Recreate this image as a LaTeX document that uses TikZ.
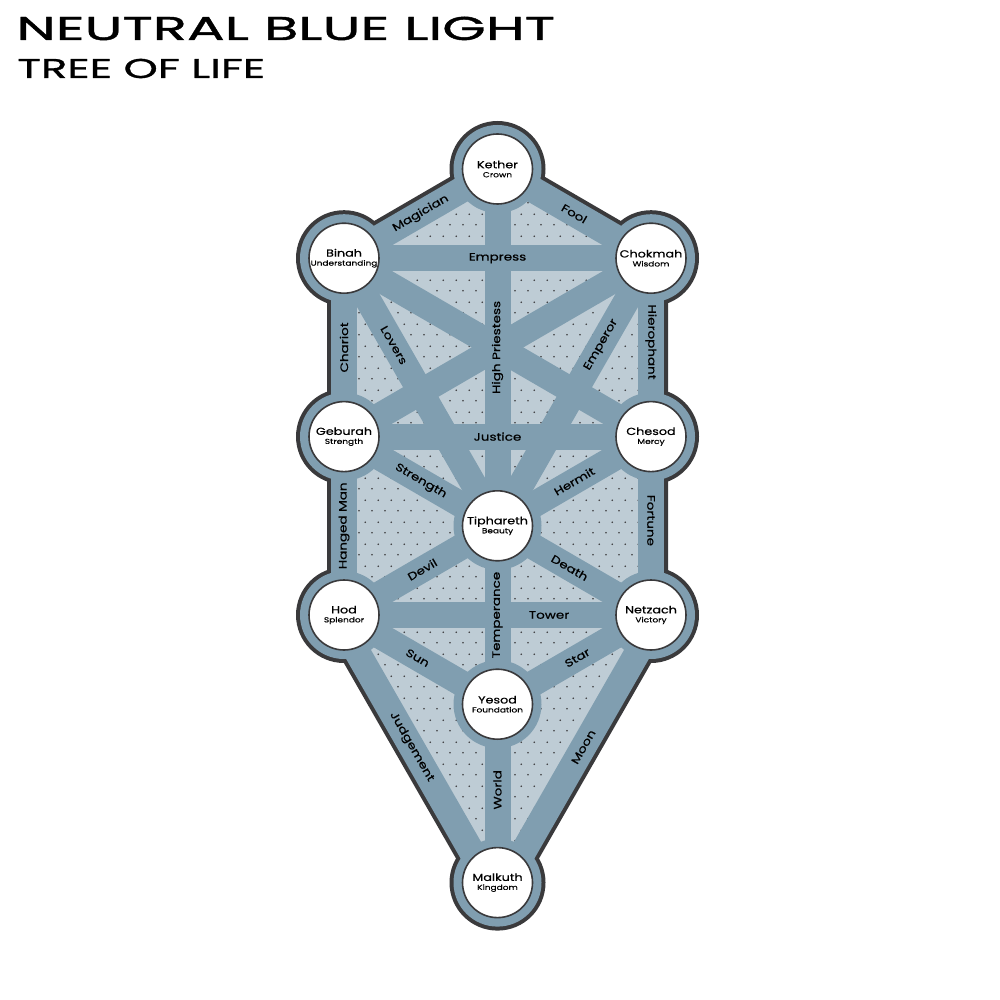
\documentclass[tikz,border=0pt]{standalone}
\usepackage{fontspec}
\setmainfont{Poppins}[FakeStretch=1.25,FakeBold=0.6]
\newfontfamily\titlefont{Poppins}[FakeStretch=1.6,FakeBold=1.2]
\newfontfamily\headfont{Poppins}[FakeStretch=1.7,FakeBold=1.3]
\usetikzlibrary{patterns,calc}
\definecolor[named]{TreeBlue}{RGB}{128,158,176}
\definecolor[named]{TreeTint}{RGB}{190,204,213}
\definecolor[named]{TreeRim}{RGB}{58,58,60}
\pgfdeclarelayer{rim}
\pgfdeclarelayer{tint}
\pgfdeclarelayer{background}
\pgfsetlayers{rim,tint,background,main}
\pgfdeclarepatternformonly{treedots}{\pgfpointorigin}{\pgfpoint{6.6pt}{11pt}}{\pgfpoint{6.6pt}{11pt}}{
  \pgfpathcircle{\pgfpoint{1.6pt}{2.7pt}}{0.45pt}
  \pgfpathcircle{\pgfpoint{4.9pt}{8.2pt}}{0.45pt}
  \pgfusepath{fill}
}
\newcommand{\sephsub}[1]{\\[-1.5pt]{\fontsize{3.6}{4}\selectfont #1}}
\tikzset{
  sephira/.style={circle,draw=TreeRim,line width=0.8pt,fill=white,minimum size=35pt,
    inner sep=0pt,align=center,font=\fontsize{5.1}{6}\selectfont},
  band/.style={TreeBlue,line width=13pt},
  pathlabel/.style={sloped,allow upside down,inner sep=0pt,font=\fontsize{5.4}{6}\selectfont},
}

\begin{document}
\begin{tikzpicture}[x=0.5pt,y=-0.5pt]
  \useasboundingbox (0,0) rectangle (1000,1000);
  % Title
  \node[anchor=base west,inner sep=0pt,font=\headfont\fontsize{16.5}{18}\selectfont] (title) at (16,40) {NEUTRAL BLUE LIGHT};
  \node[anchor=base west,inner sep=0pt,font=\titlefont\fontsize{13.6}{15}\selectfont] (subtitle) at (17,78) {TREE OF LIFE};
  % Sephirot
  \node[sephira] (kether)    at (497.5,169)   {Kether\sephsub{Crown}};
  \node[sephira] (binah)     at (344,258.2)   {Binah\sephsub{Understanding}};
  \node[sephira] (chokmah)   at (651,258.2)   {Chokmah\sephsub{Wisdom}};
  \node[sephira] (geburah)   at (344,436.6)   {Geburah\sephsub{Strength}};
  \node[sephira] (chesod)    at (651,436.6)   {Chesod\sephsub{Mercy}};
  \node[sephira] (tiphareth) at (497.5,525.8) {Tiphareth\sephsub{Beauty}};
  \node[sephira] (hod)       at (344,615)     {Hod\sephsub{Splendor}};
  \node[sephira] (netzach)   at (651,615)     {Netzach\sephsub{Victory}};
  \node[sephira] (yesod)     at (497.5,704.2) {Yesod\sephsub{Foundation}};
  \node[sephira] (malkuth)   at (497.5,882.6) {Malkuth\sephsub{Kingdom}};
  % the two lower outer paths sit a little outwards
  \coordinate (hodout)   at ($(hod.center)!3.5pt!-90:(malkuth.center)$);
  \coordinate (malkleft) at ($(malkuth.center)!3.5pt!90:(hod.center)$);
  \coordinate (netzout)  at ($(netzach.center)!3.5pt!90:(malkuth.center)$);
  \coordinate (malkright) at ($(malkuth.center)!3.5pt!-90:(netzach.center)$);
  % Outline of the tree
  \begin{pgfonlayer}{rim}
    \draw[TreeRim,line width=17pt,line join=round] (kether.center) -- (chokmah.center) -- (chesod.center)
      -- (netzach.center) -- (netzout) -- (malkright) -- (malkleft) -- (hodout) -- (hod.center)
      -- (geburah.center) -- (binah.center) -- cycle;
    \foreach \s in {kether,binah,chokmah,geburah,chesod,hod,netzach,malkuth}
      \fill[TreeRim] (\s.center) circle (48);
  \end{pgfonlayer}
  \begin{pgfonlayer}{tint}
    \fill[TreeTint] (kether.center) -- (chokmah.center) -- (chesod.center)
      -- (netzach.center) -- (malkuth.center) -- (hod.center) -- (geburah.center) -- (binah.center) -- cycle;
    \fill[pattern=treedots,pattern color=TreeRim] (kether.center) -- (chokmah.center) -- (chesod.center)
      -- (netzach.center) -- (malkuth.center) -- (hod.center) -- (geburah.center) -- (binah.center) -- cycle;
  \end{pgfonlayer}
  % Paths
  \begin{pgfonlayer}{background}
    \foreach \a/\b in {binah/chesod,chokmah/geburah}
      \draw[band] (\a.center) -- (\b.center);
  \end{pgfonlayer}
  \foreach \a/\b/\p/\t [count=\i] in {
      binah/kether/0.5/Magician, kether/chokmah/0.5/Fool, binah/chokmah/0.5/Empress,
      tiphareth/kether/0.5/High Priestess, binah/tiphareth/0.325/Lovers, tiphareth/chokmah/0.676/Emperor,
      geburah/binah/0.5/Chariot, chokmah/chesod/0.47/Hierophant, geburah/chesod/0.5/Justice,
      geburah/tiphareth/0.5/Strength, tiphareth/chesod/0.5/Hermit, hod/geburah/0.5/Hanged Man,
      chesod/netzach/0.47/Fortune, hod/tiphareth/0.51/Devil, tiphareth/netzach/0.47/Death,
      yesod/tiphareth/0.5/Temperance, hod/netzach/0.668/Tower, hod/yesod/0.48/Sun,
      yesod/netzach/0.52/Star, hodout/malkleft/0.48/Judgement, malkright/netzout/0.52/Moon,
      malkuth/yesod/0.52/World}
  {
    \begin{pgfonlayer}{background}
      \draw[band] (\a.center) -- (\b.center);
    \end{pgfonlayer}
    \path (\a.center) -- node[pathlabel,pos=\p] (path\i) {\t} (\b.center);
  }
  \begin{pgfonlayer}{background}
    \foreach \s in {kether,binah,chokmah,geburah,chesod,tiphareth,hod,netzach,yesod,malkuth}
      \fill[TreeBlue] (\s.center) circle (44);
  \end{pgfonlayer}
\end{tikzpicture}
\end{document}
